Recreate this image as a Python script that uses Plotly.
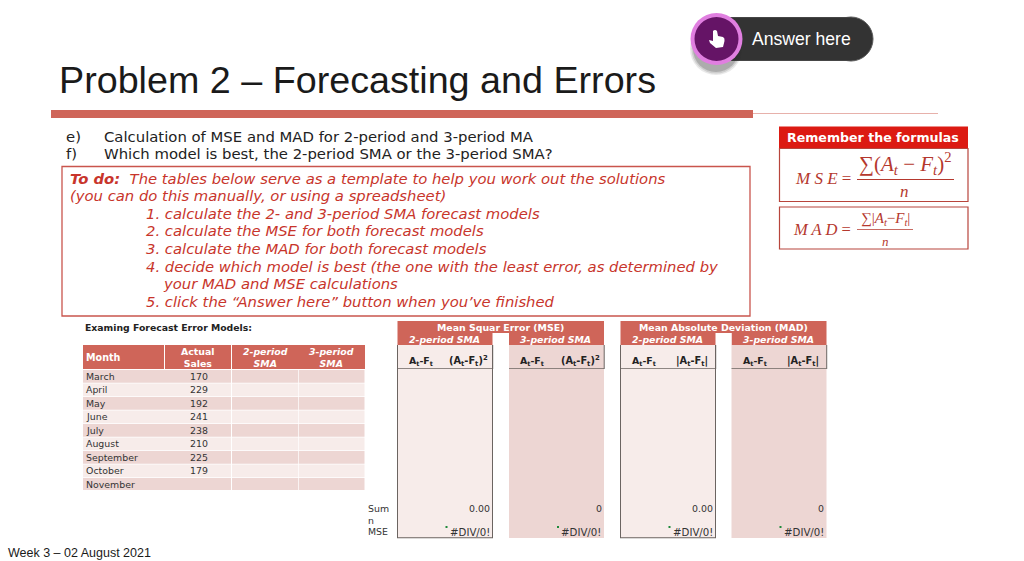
import plotly.graph_objects as go

# table contents
months = ["March", "April", "May", "June", "July", "August", "September", "October", "November"]
actual_sales = [170, 229, 192, 241, 238, 210, 225, 179, None]
summary_labels = ["Sum", "n", "MSE"]
sum_values = ["0.00", "0", "0.00", "0"]
mse_values = ["#DIV/0!", "#DIV/0!", "#DIV/0!", "#DIV/0!"]
group_titles = ["Mean Squar Error (MSE)", "Mean Absolute Deviation (MAD)"]
period_labels = ["2-period SMA", "3-period SMA", "2-period SMA", "3-period SMA"]
error_heads = ["(A<sub>t</sub>-F<sub>t</sub>)<sup>2</sup>", "(A<sub>t</sub>-F<sub>t</sub>)<sup>2</sup>",
               "|A<sub>t</sub>-F<sub>t</sub>|", "|A<sub>t</sub>-F<sub>t</sub>|"]
bullets = [
    ("e)", "Calculation of MSE and MAD for 2-period and 3-period MA"),
    ("f)", "Which model is best, the 2-period SMA or the 3-period SMA?"),
]
todo_lines = [
    (69, "<b>To do:</b>  The tables below serve as a template to help you work out the solutions"),
    (69, "(you can do this manually, or using a spreadsheet)"),
    (144.5, "1. calculate the 2- and 3-period SMA forecast models"),
    (144.5, "2. calculate the MSE for both forecast models"),
    (144.5, "3. calculate the MAD for both forecast models"),
    (144.5, "4. decide which model is best (the one with the least error, as determined by"),
    (161.5, "your MAD and MSE calculations"),
    (144.5, "5. click the “Answer here” button when you’ve finished"),
]

SANS = "Liberation Sans"
VERD = "DejaVu Sans"
SERIF = "Liberation Serif"
SALMON = "#cf6559"
LIGHT = "#f7ecea"
DARK = "#edd6d3"
RED_TXT = "#c8352b"
FORM_RED = "#b5382e"
GREY = "#6b6461"

fig = go.Figure()


def box(x0, y0, x1, y1, fill=None, line=None, width=1, kind="rect"):
    fig.add_shape(type=kind, x0=x0, y0=y0, x1=x1, y1=y1, fillcolor=fill,
                  line=dict(color=line, width=width if line else 0), layer="above")


def text(x, y, s, size, color="#222222", anchor="left", family=VERD):
    fig.add_annotation(x=x, y=y, text=s, showarrow=False, xanchor=anchor, yanchor="middle",
                       borderpad=0, font=dict(family=family, size=size, color=color))


# title band
text(58, 80, "Problem 2 – Forecasting and Errors", 37.7, "#1a1a1a", family=SANS)
box(51, 110, 753, 118, fill=SALMON)
box(753, 113, 938, 113.6, fill=SALMON)

# answer button
box(829, 17, 873, 61, fill="#333333", line="#5a5a5a", width=1, kind="circle")
box(720, 17, 851, 61, fill="#333333")
box(720, 17, 851, 17.6, fill="#5a5a5a")
box(720, 60.4, 851, 61, fill="#5a5a5a")
for r, alpha in [(26, 0.10), (24.5, 0.14), (23, 0.20)]:
    box(716 - r, 49 - r, 716 + r, 49 + r, fill=f"rgba(40,40,40,{alpha})", kind="circle")
box(690.5, 13, 742.5, 65, fill="#e07fe0", kind="circle")
box(694.5, 17, 738.5, 61, fill="#651466", kind="circle")
fig.add_shape(type="path", layer="above", fillcolor="white", line=dict(width=0),
              path="M 713 31 Q 715 29 717 31 L 718 36 L 723 37 Q 725 38 724.5 41 L 723 47 "
                   "L 716 48 L 710 43 L 709 40 L 713 41 Z")
text(750.5, 39, "Answer here", 17.6, "white", family=SANS)

# question text
for (tag, line), y in zip(bullets, [137, 154]):
    text(65, y, tag, 14.85, "#222222")
    text(103, y, line, 14.85, "#222222")

# to-do box
box(62, 166.5, 750, 316, line="#c9554d", width=1.3)
for (x, line), y in zip(todo_lines, [178.3, 195.8, 213.3, 230.8, 248.3, 266.3, 283.3, 301.3]):
    text(x, y, f"<i>{line}</i>", 14.8, RED_TXT)

# formula boxes
box(779, 126.5, 968, 148.5, fill="#dc1a12")
text(872.5, 137.5, "<b>Remember the formulas</b>", 12.6, "white", "center")
box(779.5, 148.5, 968, 201.5, line="#b8453c", width=1.2)
box(779.5, 207, 968, 249, line="#b8453c", width=1.2)
text(794, 178, "<i>M S E</i> =", 17, FORM_RED, family=SERIF)
text(905, 163, "∑(<i>A<sub>t</sub></i> − <i>F<sub>t</sub></i>)<sup>2</sup>", 21, FORM_RED, "center", SERIF)
box(857, 179, 954, 180, fill=FORM_RED)
text(904, 191, "<i>n</i>", 17, FORM_RED, "center", SERIF)
text(792, 229, "<i>M A D</i> =", 16.5, FORM_RED, family=SERIF)
text(885, 219, "∑|<i>A<sub>t</sub></i>−<i>F<sub>t</sub></i>|", 15, FORM_RED, "center", SERIF)
box(857, 229, 913, 229.8, fill=FORM_RED)
text(885, 241, "<i>n</i>", 13, FORM_RED, "center", SERIF)

# left table
text(84, 327, "<b>Examing Forecast Error Models:</b>", 9.3, "#222222")
row_top = 370
row_h = 13.5
row_bottom = 490
for x0, x1 in [(83, 164), (165, 231), (232, 365)]:
    box(x0, 345, x1, 369, fill=SALMON)
text(84.5, 357.5, "<b>Month</b>", 9.6, "white")
text(198, 357.5, "<b>Actual<br>Sales</b>", 9.4, "white", "center")
text(265, 357.5, "<b><i>2-period<br>SMA</i></b>", 9.4, "white", "center")
text(331, 357.5, "<b><i>3-period<br>SMA</i></b>", 9.4, "white", "center")
for i, (month, sales) in enumerate(zip(months, actual_sales)):
    y0 = row_top + i * row_h
    y1 = min(y0 + row_h - 0.8, row_bottom)
    fill = DARK if i % 2 == 0 else LIGHT
    for x0, x1 in [(83, 231), (232, 298), (298.7, 364.5)]:
        box(x0, y0, x1, y1, fill=fill)
    text(84.5, y0 + 6, month, 9.4, "#333333")
    if sales is not None:
        text(198.5, y0 + 6, str(sales), 9.4, "#333333", "center")

# error panels
panels = [(397.5, 492.5), (509, 604), (620.5, 715.5), (731.5, 826.5)]
for (x0, x1), period, head, total, mse in zip(panels, period_labels, error_heads, sum_values, mse_values):
    is_first = panels.index((x0, x1)) % 2 == 0
    box(x0, 345, x1, 538, fill=LIGHT if is_first else DARK)
    box(x0, 333, x1, 345, fill=SALMON)
    text((x0 + x1) / 2 - 1, 339, f"<b><i>{period}</i></b>", 9.4, "white", "center")
    text(x0 + 23, 361, "<b>A<sub>t</sub>-F<sub>t</sub></b>", 9.4, "#222222", "center")
    text(x0 + 71, 361, f"<b>{head}</b>", 9.8, "#222222", "center")
    box(x0, 368.3, x1, 369.1, fill=GREY)
    box(x1 - 0.3, 345, x1 + 0.7, 369, fill=GREY)
    if is_first:
        box(x0 - 0.5, 345, x0 + 0.5, 538, fill=GREY)
        box(x1 - 0.5, 345, x1 + 0.5, 538, fill=GREY)
        box(x0 - 0.5, 537.2, x1 + 0.5, 538.2, fill=GREY)
    text(x1 - 1.5, 508, total, 9.4, "#333333", "right")
    text(x1 - 2, 532, mse, 10.2, "#333333", "right")
    box(x1 - 47, 526, x1 - 45, 528, fill="#1f8a3b")

for (x0, x1), (a, b), title in zip([(397.5, 604), (620.5, 826.5)], [(492.5, 509), (715.5, 731.5)], group_titles):
    box(x0, 321, x1, 333, fill=SALMON)
    box(a + 0.5, 333, b, 345, fill="white")
    text((x0 + x1) / 2, 327, f"<b>{title}</b>", 9.4, "white", "center")

for label, y in zip(summary_labels, [508, 520, 531.5]):
    text(366.5, y, label, 9.4, "#333333")

text(7, 553, "Week 3 – 02 August 2021", 12.5, "#1a1a1a", family=SANS)

fig.update_layout(
    width=1024, height=561,
    margin=dict(l=0, r=0, t=0, b=0),
    paper_bgcolor="white", plot_bgcolor="white",
    showlegend=False,
    xaxis=dict(range=[0, 1024], visible=False, fixedrange=True),
    yaxis=dict(range=[561, 0], visible=False, fixedrange=True),
)
# the page's default body margin would push the figure 8px off
fig.write_html("out.html", config=dict(displayModeBar=False),
               post_script="document.body.style.margin='0';")
